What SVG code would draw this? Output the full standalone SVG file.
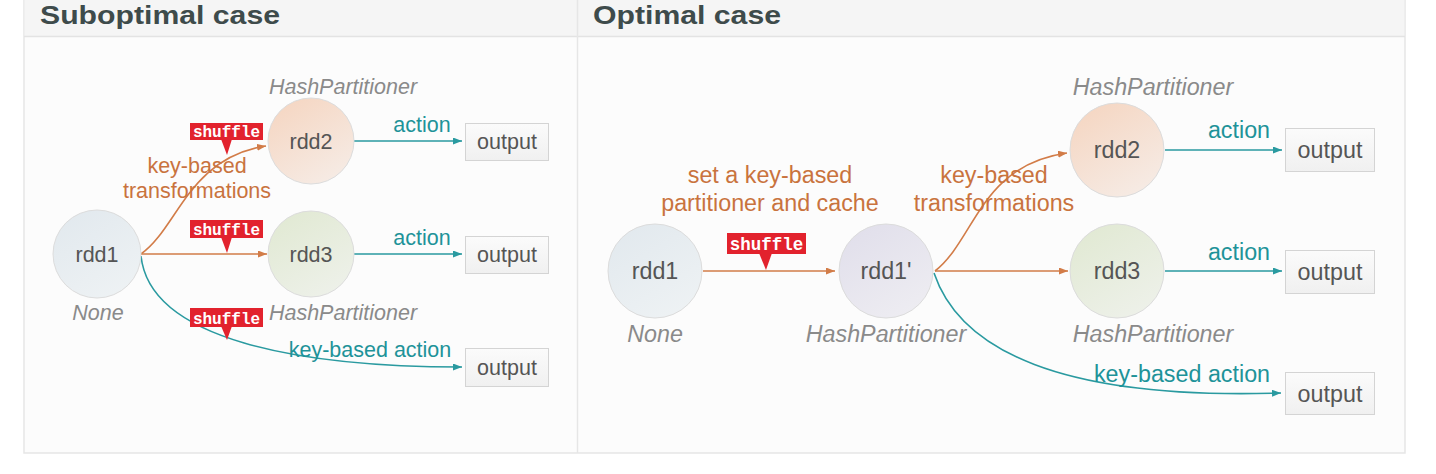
<svg xmlns="http://www.w3.org/2000/svg" width="1436" height="474" viewBox="0 0 1436 474">
<defs>
<style>
.title{font-family:"Liberation Sans",Arial,sans-serif;font-weight:bold;fill:#3e4b4b}
.t{font-family:"Liberation Sans",Arial,sans-serif;text-anchor:middle}
.n{fill:#555}
.p{fill:#8a8a8a;font-style:italic}
.o{fill:#c9733e}
.c{fill:#1e9399}
.s{font-family:"Liberation Mono","Courier New",monospace;font-weight:bold;fill:#fff;text-anchor:middle}
.l{font-size:21.5px}
.r{font-size:23.3px}
.box{fill:url(#gBox);stroke:#d4d4d4;stroke-width:1}
.circ{stroke:#dcdcdc;stroke-width:1}
.eo{fill:none;stroke:#d27c48;stroke-width:1.6}
.ec{fill:none;stroke:#2a9aa0;stroke-width:1.6}
.tag{fill:#e2222d}
</style>
<linearGradient id="gBox" x1="0" y1="0" x2="0" y2="1"><stop offset="0" stop-color="#fbfbfb"/><stop offset="1" stop-color="#f0f0f0"/></linearGradient>
<linearGradient id="gBlue" x1="0.2" y1="0" x2="0.8" y2="1"><stop offset="0" stop-color="#e2e9ee"/><stop offset="1" stop-color="#eef2f4"/></linearGradient>
<linearGradient id="gPeach" x1="0.2" y1="0" x2="0.8" y2="1"><stop offset="0" stop-color="#f5d6c2"/><stop offset="1" stop-color="#f6ece6"/></linearGradient>
<linearGradient id="gGreen" x1="0.2" y1="0" x2="0.8" y2="1"><stop offset="0" stop-color="#e1e9d3"/><stop offset="1" stop-color="#eef1ea"/></linearGradient>
<linearGradient id="gLav" x1="0.2" y1="0" x2="0.8" y2="1"><stop offset="0" stop-color="#e1dfeb"/><stop offset="1" stop-color="#eeedf2"/></linearGradient>
<marker id="mo" markerUnits="userSpaceOnUse" markerWidth="10" markerHeight="8" refX="9" refY="3.5" orient="auto"><path d="M0,0 L9,3.5 L0,7 z" fill="#d27c48"/></marker>
<marker id="mc" markerUnits="userSpaceOnUse" markerWidth="10" markerHeight="8" refX="9" refY="3.5" orient="auto"><path d="M0,0 L9,3.5 L0,7 z" fill="#2a9aa0"/></marker>
</defs>
<rect width="1436" height="474" fill="#ffffff"/>
<!-- panels -->
<g id="panels">
<rect x="24" y="-2" width="1381" height="455" fill="#fcfcfc" stroke="#e6e6e6" stroke-width="1.5"/>
<rect x="24.75" y="-2" width="1379.5" height="38" fill="#f5f5f5"/>
<line x1="24" y1="36.5" x2="1405" y2="36.5" stroke="#e3e3e3" stroke-width="1.5"/>
<line x1="577.5" y1="-2" x2="577.5" y2="453" stroke="#e6e6e6" stroke-width="1.5"/>
<text class="title" x="40" y="24" font-size="25" textLength="240" lengthAdjust="spacingAndGlyphs">Suboptimal case</text>
<text class="title" x="593" y="24" font-size="25" textLength="188" lengthAdjust="spacingAndGlyphs">Optimal case</text>
</g>
<!-- connectors -->
<g id="connectors">
<path class="eo" d="M141,254 C178,228 188,158 266,146" marker-end="url(#mo)"/>
<line class="eo" x1="141" y1="254" x2="267" y2="254" marker-end="url(#mo)"/>
<path class="ec" d="M141,256 C150,340 300,367 462,367" marker-end="url(#mc)"/>
<line class="ec" x1="354" y1="141" x2="462" y2="141" marker-end="url(#mc)"/>
<line class="ec" x1="354" y1="254" x2="462" y2="254" marker-end="url(#mc)"/>
<line class="eo" x1="703" y1="271" x2="835" y2="271" marker-end="url(#mo)"/>
<path class="eo" d="M935,271 C975,240 980,165 1067,153" marker-end="url(#mo)"/>
<line class="eo" x1="935" y1="271" x2="1068" y2="271" marker-end="url(#mo)"/>
<path class="ec" d="M934,273 C960,350 1060,400 1281,393" marker-end="url(#mc)"/>
<line class="ec" x1="1165" y1="150" x2="1282" y2="150" marker-end="url(#mc)"/>
<line class="ec" x1="1165" y1="271" x2="1282" y2="271" marker-end="url(#mc)"/>
<!-- labels -->
<text class="t o l" x="197" y="173">key-based</text>
<text class="t o l" x="197" y="198">transformations</text>
<text class="t c l" x="422" y="132">action</text>
<text class="t c l" x="422" y="245">action</text>
<text class="t c l" x="370" y="357">key-based action</text>
<text class="t o r" x="770" y="183">set a key-based</text>
<text class="t o r" x="770" y="211">partitioner and cache</text>
<text class="t o r" x="994" y="183">key-based</text>
<text class="t o r" x="994" y="211">transformations</text>
<text class="t c r" x="1239" y="138">action</text>
<text class="t c r" x="1239" y="260">action</text>
<text class="t c r" x="1182" y="382">key-based action</text>
<!-- shuffle tags -->
<g id="shuffle1"><rect class="tag" x="190" y="123" width="73" height="17"/><path class="tag" d="M221,139 L232,139 L227,155 z"/><text class="s" x="226.5" y="136.5" font-size="16">shuffle</text></g>
<g id="shuffle2"><rect class="tag" x="190" y="220" width="73" height="18"/><path class="tag" d="M221,237 L232,237 L227,253 z"/><text class="s" x="226.5" y="234.5" font-size="16">shuffle</text></g>
<g id="shuffle3"><rect class="tag" x="190" y="308" width="73" height="19"/><path class="tag" d="M221,326 L232,326 L227,340 z"/><text class="s" x="226.5" y="323.5" font-size="16">shuffle</text></g>
<g id="shuffle4"><rect class="tag" x="727" y="233" width="79" height="21"/><path class="tag" d="M759,253 L772,253 L766,270 z"/><text class="s" x="766.5" y="249.5" font-size="17.5">shuffle</text></g>
</g>
<!-- left nodes -->
<g id="L-rdd1"><ellipse class="circ" cx="97" cy="254" rx="44" ry="44" fill="url(#gBlue)"/><text class="t n l" x="97" y="262">rdd1</text><text class="t p l" x="98" y="320">None</text></g>
<g id="L-rdd2"><ellipse class="circ" cx="311" cy="141" rx="43" ry="43" fill="url(#gPeach)"/><text class="t n l" x="311" y="149">rdd2</text><text class="t p l" x="343" y="94">HashPartitioner</text></g>
<g id="L-rdd3"><ellipse class="circ" cx="311" cy="254" rx="43" ry="43" fill="url(#gGreen)"/><text class="t n l" x="311" y="262">rdd3</text><text class="t p l" x="343" y="320">HashPartitioner</text></g>
<g id="L-out1"><rect class="box" x="465.5" y="123.5" width="83" height="37"/><text class="t n l" x="507" y="149">output</text></g>
<g id="L-out2"><rect class="box" x="465.5" y="236.5" width="83" height="37"/><text class="t n l" x="507" y="262">output</text></g>
<g id="L-out3"><rect class="box" x="465.5" y="348.5" width="83" height="38"/><text class="t n l" x="507" y="375">output</text></g>
<!-- right nodes -->
<g id="R-rdd1"><ellipse class="circ" cx="655" cy="271" rx="47" ry="47" fill="url(#gBlue)"/><text class="t n r" x="655" y="279">rdd1</text><text class="t p r" x="655" y="342">None</text></g>
<g id="R-rdd1p"><ellipse class="circ" cx="886" cy="271" rx="47" ry="47" fill="url(#gLav)"/><text class="t n r" x="886" y="279">rdd1'</text><text class="t p r" x="886" y="342">HashPartitioner</text></g>
<g id="R-rdd2"><ellipse class="circ" cx="1117" cy="150" rx="47" ry="47" fill="url(#gPeach)"/><text class="t n r" x="1117" y="158">rdd2</text><text class="t p r" x="1153" y="95">HashPartitioner</text></g>
<g id="R-rdd3"><ellipse class="circ" cx="1117" cy="271" rx="47" ry="47" fill="url(#gGreen)"/><text class="t n r" x="1117" y="279">rdd3</text><text class="t p r" x="1153" y="342">HashPartitioner</text></g>
<g id="R-out1"><rect class="box" x="1285.5" y="128.5" width="89" height="43"/><text class="t n r" x="1330" y="158">output</text></g>
<g id="R-out2"><rect class="box" x="1285.5" y="250.5" width="89" height="43"/><text class="t n r" x="1330" y="280">output</text></g>
<g id="R-out3"><rect class="box" x="1285.5" y="372.5" width="89" height="42"/><text class="t n r" x="1330" y="402">output</text></g>
</svg>
